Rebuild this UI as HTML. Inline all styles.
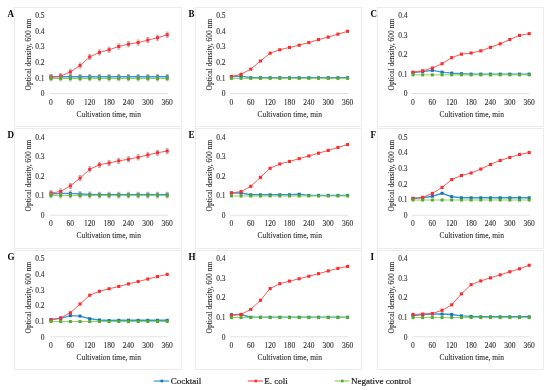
<!DOCTYPE html>
<html><head><meta charset="utf-8"><style>html,body{margin:0;padding:0;background:#fff;width:550px;height:390px;overflow:hidden}svg{display:block;will-change:transform;filter:blur(0.3px)}</style></head>
<body><svg width="550" height="390" viewBox="0 0 550 390">
<rect width="550" height="390" fill="#fff"/>
<rect x="14.5" y="7.5" width="167" height="119" fill="#fff" stroke="#ececec" stroke-width="1"/>
<text transform="translate(7.4,16.6) scale(0.9,1)" font-family="Liberation Serif" font-weight="bold" font-size="10.0" fill="#000">A</text>
<text transform="translate(31.2,54.6) rotate(-90)" text-anchor="middle" font-family="Liberation Serif" font-size="7.52" fill="#303030" stroke="#303030" stroke-width="0.1">Optical density, 600 nm</text>
<text x="44.6" y="96.33" text-anchor="end" font-family="Liberation Serif" font-size="7.52" fill="#303030" stroke="#303030" stroke-width="0.1">0</text>
<text x="44.6" y="80.71" text-anchor="end" font-family="Liberation Serif" font-size="7.52" fill="#303030" stroke="#303030" stroke-width="0.1">0.1</text>
<text x="44.6" y="65.09" text-anchor="end" font-family="Liberation Serif" font-size="7.52" fill="#303030" stroke="#303030" stroke-width="0.1">0.2</text>
<text x="44.6" y="49.47" text-anchor="end" font-family="Liberation Serif" font-size="7.52" fill="#303030" stroke="#303030" stroke-width="0.1">0.3</text>
<text x="44.6" y="33.85" text-anchor="end" font-family="Liberation Serif" font-size="7.52" fill="#303030" stroke="#303030" stroke-width="0.1">0.4</text>
<text x="44.6" y="18.23" text-anchor="end" font-family="Liberation Serif" font-size="7.52" fill="#303030" stroke="#303030" stroke-width="0.1">0.5</text>
<line x1="50.0" y1="93.50" x2="167.7" y2="93.50" stroke="#d9d9d9" stroke-width="0.8"/>
<text x="51.00" y="105.2" text-anchor="middle" font-family="Liberation Serif" font-size="7.52" fill="#303030" stroke="#303030" stroke-width="0.1">0</text>
<text x="70.37" y="105.2" text-anchor="middle" font-family="Liberation Serif" font-size="7.52" fill="#303030" stroke="#303030" stroke-width="0.1">60</text>
<text x="89.73" y="105.2" text-anchor="middle" font-family="Liberation Serif" font-size="7.52" fill="#303030" stroke="#303030" stroke-width="0.1">120</text>
<text x="109.10" y="105.2" text-anchor="middle" font-family="Liberation Serif" font-size="7.52" fill="#303030" stroke="#303030" stroke-width="0.1">180</text>
<text x="128.47" y="105.2" text-anchor="middle" font-family="Liberation Serif" font-size="7.52" fill="#303030" stroke="#303030" stroke-width="0.1">240</text>
<text x="147.83" y="105.2" text-anchor="middle" font-family="Liberation Serif" font-size="7.52" fill="#303030" stroke="#303030" stroke-width="0.1">300</text>
<text x="167.20" y="105.2" text-anchor="middle" font-family="Liberation Serif" font-size="7.52" fill="#303030" stroke="#303030" stroke-width="0.1">360</text>
<text x="108.7" y="116.6" text-anchor="middle" font-family="Liberation Serif" font-size="7.52" fill="#303030" stroke="#303030" stroke-width="0.1">Cultivation time, min</text>
<polyline points="51.00,76.79 60.68,76.79 70.37,76.79 80.05,76.79 89.73,76.79 99.42,76.79 109.10,76.79 118.78,76.79 128.47,76.79 138.15,76.79 147.83,76.79 157.52,76.79 167.20,76.79" fill="none" stroke="#3399dd" stroke-width="1.4"/>
<path d="M51.00 74.49V79.09M49.50 74.49h3M49.50 79.09h3" stroke="#9a9a9a" stroke-width="0.7" fill="none"/>
<rect x="49.50" y="75.29" width="3.0" height="3.0" fill="#1a6fb5"/>
<path d="M60.68 74.49V79.09M59.18 74.49h3M59.18 79.09h3" stroke="#9a9a9a" stroke-width="0.7" fill="none"/>
<rect x="59.18" y="75.29" width="3.0" height="3.0" fill="#1a6fb5"/>
<path d="M70.37 74.49V79.09M68.87 74.49h3M68.87 79.09h3" stroke="#9a9a9a" stroke-width="0.7" fill="none"/>
<rect x="68.87" y="75.29" width="3.0" height="3.0" fill="#1a6fb5"/>
<path d="M80.05 74.49V79.09M78.55 74.49h3M78.55 79.09h3" stroke="#9a9a9a" stroke-width="0.7" fill="none"/>
<rect x="78.55" y="75.29" width="3.0" height="3.0" fill="#1a6fb5"/>
<path d="M89.73 74.49V79.09M88.23 74.49h3M88.23 79.09h3" stroke="#9a9a9a" stroke-width="0.7" fill="none"/>
<rect x="88.23" y="75.29" width="3.0" height="3.0" fill="#1a6fb5"/>
<path d="M99.42 74.49V79.09M97.92 74.49h3M97.92 79.09h3" stroke="#9a9a9a" stroke-width="0.7" fill="none"/>
<rect x="97.92" y="75.29" width="3.0" height="3.0" fill="#1a6fb5"/>
<path d="M109.10 74.49V79.09M107.60 74.49h3M107.60 79.09h3" stroke="#9a9a9a" stroke-width="0.7" fill="none"/>
<rect x="107.60" y="75.29" width="3.0" height="3.0" fill="#1a6fb5"/>
<path d="M118.78 74.49V79.09M117.28 74.49h3M117.28 79.09h3" stroke="#9a9a9a" stroke-width="0.7" fill="none"/>
<rect x="117.28" y="75.29" width="3.0" height="3.0" fill="#1a6fb5"/>
<path d="M128.47 74.49V79.09M126.97 74.49h3M126.97 79.09h3" stroke="#9a9a9a" stroke-width="0.7" fill="none"/>
<rect x="126.97" y="75.29" width="3.0" height="3.0" fill="#1a6fb5"/>
<path d="M138.15 74.49V79.09M136.65 74.49h3M136.65 79.09h3" stroke="#9a9a9a" stroke-width="0.7" fill="none"/>
<rect x="136.65" y="75.29" width="3.0" height="3.0" fill="#1a6fb5"/>
<path d="M147.83 74.49V79.09M146.33 74.49h3M146.33 79.09h3" stroke="#9a9a9a" stroke-width="0.7" fill="none"/>
<rect x="146.33" y="75.29" width="3.0" height="3.0" fill="#1a6fb5"/>
<path d="M157.52 74.49V79.09M156.02 74.49h3M156.02 79.09h3" stroke="#9a9a9a" stroke-width="0.7" fill="none"/>
<rect x="156.02" y="75.29" width="3.0" height="3.0" fill="#1a6fb5"/>
<path d="M167.20 74.49V79.09M165.70 74.49h3M165.70 79.09h3" stroke="#9a9a9a" stroke-width="0.7" fill="none"/>
<rect x="165.70" y="75.29" width="3.0" height="3.0" fill="#1a6fb5"/>
<polyline points="51.00,77.10 60.68,76.16 70.37,71.94 80.05,65.54 89.73,56.95 99.42,52.42 109.10,49.76 118.78,46.48 128.47,44.14 138.15,42.58 147.83,40.08 157.52,37.74 167.20,34.77" fill="none" stroke="#ff5050" stroke-width="0.95"/>
<path d="M51.00 74.50V79.70M49.50 74.50h3M49.50 79.70h3" stroke="#9a9a9a" stroke-width="0.7" fill="none"/>
<rect x="49.45" y="75.55" width="3.1" height="3.1" fill="#ff2b2b"/>
<path d="M60.68 73.56V78.76M59.18 73.56h3M59.18 78.76h3" stroke="#9a9a9a" stroke-width="0.7" fill="none"/>
<rect x="59.13" y="74.61" width="3.1" height="3.1" fill="#ff2b2b"/>
<path d="M70.37 69.34V74.54M68.87 69.34h3M68.87 74.54h3" stroke="#9a9a9a" stroke-width="0.7" fill="none"/>
<rect x="68.82" y="70.39" width="3.1" height="3.1" fill="#ff2b2b"/>
<path d="M80.05 62.94V68.14M78.55 62.94h3M78.55 68.14h3" stroke="#9a9a9a" stroke-width="0.7" fill="none"/>
<rect x="78.50" y="63.99" width="3.1" height="3.1" fill="#ff2b2b"/>
<path d="M89.73 54.35V59.55M88.23 54.35h3M88.23 59.55h3" stroke="#9a9a9a" stroke-width="0.7" fill="none"/>
<rect x="88.18" y="55.40" width="3.1" height="3.1" fill="#ff2b2b"/>
<path d="M99.42 49.82V55.02M97.92 49.82h3M97.92 55.02h3" stroke="#9a9a9a" stroke-width="0.7" fill="none"/>
<rect x="97.87" y="50.87" width="3.1" height="3.1" fill="#ff2b2b"/>
<path d="M109.10 47.16V52.36M107.60 47.16h3M107.60 52.36h3" stroke="#9a9a9a" stroke-width="0.7" fill="none"/>
<rect x="107.55" y="48.21" width="3.1" height="3.1" fill="#ff2b2b"/>
<path d="M118.78 43.88V49.08M117.28 43.88h3M117.28 49.08h3" stroke="#9a9a9a" stroke-width="0.7" fill="none"/>
<rect x="117.23" y="44.93" width="3.1" height="3.1" fill="#ff2b2b"/>
<path d="M128.47 41.54V46.74M126.97 41.54h3M126.97 46.74h3" stroke="#9a9a9a" stroke-width="0.7" fill="none"/>
<rect x="126.92" y="42.59" width="3.1" height="3.1" fill="#ff2b2b"/>
<path d="M138.15 39.98V45.18M136.65 39.98h3M136.65 45.18h3" stroke="#9a9a9a" stroke-width="0.7" fill="none"/>
<rect x="136.60" y="41.03" width="3.1" height="3.1" fill="#ff2b2b"/>
<path d="M147.83 37.48V42.68M146.33 37.48h3M146.33 42.68h3" stroke="#9a9a9a" stroke-width="0.7" fill="none"/>
<rect x="146.28" y="38.53" width="3.1" height="3.1" fill="#ff2b2b"/>
<path d="M157.52 35.14V40.34M156.02 35.14h3M156.02 40.34h3" stroke="#9a9a9a" stroke-width="0.7" fill="none"/>
<rect x="155.97" y="36.19" width="3.1" height="3.1" fill="#ff2b2b"/>
<path d="M167.20 32.17V37.37M165.70 32.17h3M165.70 37.37h3" stroke="#9a9a9a" stroke-width="0.7" fill="none"/>
<rect x="165.65" y="33.22" width="3.1" height="3.1" fill="#ff2b2b"/>
<polyline points="51.00,78.50 60.68,78.50 70.37,78.50 80.05,78.50 89.73,78.50 99.42,78.50 109.10,78.50 118.78,78.50 128.47,78.50 138.15,78.50 147.83,78.50 157.52,78.50 167.20,78.50" fill="none" stroke="#8fd160" stroke-width="1.0"/>
<path d="M51.00 76.20V80.80M49.50 76.20h3M49.50 80.80h3" stroke="#9a9a9a" stroke-width="0.7" fill="none"/>
<rect x="49.50" y="77.00" width="3.0" height="3.0" fill="#55aa2a"/>
<path d="M60.68 76.20V80.80M59.18 76.20h3M59.18 80.80h3" stroke="#9a9a9a" stroke-width="0.7" fill="none"/>
<rect x="59.18" y="77.00" width="3.0" height="3.0" fill="#55aa2a"/>
<path d="M70.37 76.20V80.80M68.87 76.20h3M68.87 80.80h3" stroke="#9a9a9a" stroke-width="0.7" fill="none"/>
<rect x="68.87" y="77.00" width="3.0" height="3.0" fill="#55aa2a"/>
<path d="M80.05 76.20V80.80M78.55 76.20h3M78.55 80.80h3" stroke="#9a9a9a" stroke-width="0.7" fill="none"/>
<rect x="78.55" y="77.00" width="3.0" height="3.0" fill="#55aa2a"/>
<path d="M89.73 76.20V80.80M88.23 76.20h3M88.23 80.80h3" stroke="#9a9a9a" stroke-width="0.7" fill="none"/>
<rect x="88.23" y="77.00" width="3.0" height="3.0" fill="#55aa2a"/>
<path d="M99.42 76.20V80.80M97.92 76.20h3M97.92 80.80h3" stroke="#9a9a9a" stroke-width="0.7" fill="none"/>
<rect x="97.92" y="77.00" width="3.0" height="3.0" fill="#55aa2a"/>
<path d="M109.10 76.20V80.80M107.60 76.20h3M107.60 80.80h3" stroke="#9a9a9a" stroke-width="0.7" fill="none"/>
<rect x="107.60" y="77.00" width="3.0" height="3.0" fill="#55aa2a"/>
<path d="M118.78 76.20V80.80M117.28 76.20h3M117.28 80.80h3" stroke="#9a9a9a" stroke-width="0.7" fill="none"/>
<rect x="117.28" y="77.00" width="3.0" height="3.0" fill="#55aa2a"/>
<path d="M128.47 76.20V80.80M126.97 76.20h3M126.97 80.80h3" stroke="#9a9a9a" stroke-width="0.7" fill="none"/>
<rect x="126.97" y="77.00" width="3.0" height="3.0" fill="#55aa2a"/>
<path d="M138.15 76.20V80.80M136.65 76.20h3M136.65 80.80h3" stroke="#9a9a9a" stroke-width="0.7" fill="none"/>
<rect x="136.65" y="77.00" width="3.0" height="3.0" fill="#55aa2a"/>
<path d="M147.83 76.20V80.80M146.33 76.20h3M146.33 80.80h3" stroke="#9a9a9a" stroke-width="0.7" fill="none"/>
<rect x="146.33" y="77.00" width="3.0" height="3.0" fill="#55aa2a"/>
<path d="M157.52 76.20V80.80M156.02 76.20h3M156.02 80.80h3" stroke="#9a9a9a" stroke-width="0.7" fill="none"/>
<rect x="156.02" y="77.00" width="3.0" height="3.0" fill="#55aa2a"/>
<path d="M167.20 76.20V80.80M165.70 76.20h3M165.70 80.80h3" stroke="#9a9a9a" stroke-width="0.7" fill="none"/>
<rect x="165.70" y="77.00" width="3.0" height="3.0" fill="#55aa2a"/>
<rect x="195.5" y="7.5" width="166" height="119" fill="#fff" stroke="#ececec" stroke-width="1"/>
<text transform="translate(188.4,16.6) scale(0.9,1)" font-family="Liberation Serif" font-weight="bold" font-size="10.0" fill="#000">B</text>
<text transform="translate(212.2,54.6) rotate(-90)" text-anchor="middle" font-family="Liberation Serif" font-size="7.52" fill="#303030" stroke="#303030" stroke-width="0.1">Optical density, 600 nm</text>
<text x="225.6" y="96.33" text-anchor="end" font-family="Liberation Serif" font-size="7.52" fill="#303030" stroke="#303030" stroke-width="0.1">0</text>
<text x="225.6" y="80.71" text-anchor="end" font-family="Liberation Serif" font-size="7.52" fill="#303030" stroke="#303030" stroke-width="0.1">0.1</text>
<text x="225.6" y="65.09" text-anchor="end" font-family="Liberation Serif" font-size="7.52" fill="#303030" stroke="#303030" stroke-width="0.1">0.2</text>
<text x="225.6" y="49.47" text-anchor="end" font-family="Liberation Serif" font-size="7.52" fill="#303030" stroke="#303030" stroke-width="0.1">0.3</text>
<text x="225.6" y="33.85" text-anchor="end" font-family="Liberation Serif" font-size="7.52" fill="#303030" stroke="#303030" stroke-width="0.1">0.4</text>
<text x="225.6" y="18.23" text-anchor="end" font-family="Liberation Serif" font-size="7.52" fill="#303030" stroke="#303030" stroke-width="0.1">0.5</text>
<line x1="230.4" y1="93.50" x2="348.1" y2="93.50" stroke="#d9d9d9" stroke-width="0.8"/>
<text x="231.40" y="105.2" text-anchor="middle" font-family="Liberation Serif" font-size="7.52" fill="#303030" stroke="#303030" stroke-width="0.1">0</text>
<text x="250.77" y="105.2" text-anchor="middle" font-family="Liberation Serif" font-size="7.52" fill="#303030" stroke="#303030" stroke-width="0.1">60</text>
<text x="270.13" y="105.2" text-anchor="middle" font-family="Liberation Serif" font-size="7.52" fill="#303030" stroke="#303030" stroke-width="0.1">120</text>
<text x="289.50" y="105.2" text-anchor="middle" font-family="Liberation Serif" font-size="7.52" fill="#303030" stroke="#303030" stroke-width="0.1">180</text>
<text x="308.87" y="105.2" text-anchor="middle" font-family="Liberation Serif" font-size="7.52" fill="#303030" stroke="#303030" stroke-width="0.1">240</text>
<text x="328.23" y="105.2" text-anchor="middle" font-family="Liberation Serif" font-size="7.52" fill="#303030" stroke="#303030" stroke-width="0.1">300</text>
<text x="347.60" y="105.2" text-anchor="middle" font-family="Liberation Serif" font-size="7.52" fill="#303030" stroke="#303030" stroke-width="0.1">360</text>
<text x="289.7" y="116.6" text-anchor="middle" font-family="Liberation Serif" font-size="7.52" fill="#303030" stroke="#303030" stroke-width="0.1">Cultivation time, min</text>
<polyline points="231.40,76.79 241.08,76.16 250.77,77.72 260.45,77.72 270.13,77.72 279.82,77.72 289.50,77.72 299.18,77.72 308.87,77.72 318.55,77.72 328.23,77.72 337.92,77.72 347.60,77.72" fill="none" stroke="#3399dd" stroke-width="1.4"/>
<rect x="229.90" y="75.29" width="3.0" height="3.0" fill="#1a6fb5"/>
<rect x="239.58" y="74.66" width="3.0" height="3.0" fill="#1a6fb5"/>
<rect x="249.27" y="76.22" width="3.0" height="3.0" fill="#1a6fb5"/>
<rect x="258.95" y="76.22" width="3.0" height="3.0" fill="#1a6fb5"/>
<rect x="268.63" y="76.22" width="3.0" height="3.0" fill="#1a6fb5"/>
<rect x="278.32" y="76.22" width="3.0" height="3.0" fill="#1a6fb5"/>
<rect x="288.00" y="76.22" width="3.0" height="3.0" fill="#1a6fb5"/>
<rect x="297.68" y="76.22" width="3.0" height="3.0" fill="#1a6fb5"/>
<rect x="307.37" y="76.22" width="3.0" height="3.0" fill="#1a6fb5"/>
<rect x="317.05" y="76.22" width="3.0" height="3.0" fill="#1a6fb5"/>
<rect x="326.73" y="76.22" width="3.0" height="3.0" fill="#1a6fb5"/>
<rect x="336.42" y="76.22" width="3.0" height="3.0" fill="#1a6fb5"/>
<rect x="346.10" y="76.22" width="3.0" height="3.0" fill="#1a6fb5"/>
<polyline points="231.40,76.47 241.08,74.29 250.77,69.13 260.45,61.01 270.13,53.20 279.82,49.76 289.50,47.42 299.18,45.23 308.87,42.58 318.55,39.61 328.23,37.11 337.92,34.14 347.60,31.33" fill="none" stroke="#ff5050" stroke-width="0.95"/>
<rect x="229.85" y="74.92" width="3.1" height="3.1" fill="#ff2b2b"/>
<rect x="239.53" y="72.74" width="3.1" height="3.1" fill="#ff2b2b"/>
<rect x="249.22" y="67.58" width="3.1" height="3.1" fill="#ff2b2b"/>
<rect x="258.90" y="59.46" width="3.1" height="3.1" fill="#ff2b2b"/>
<rect x="268.58" y="51.65" width="3.1" height="3.1" fill="#ff2b2b"/>
<rect x="278.27" y="48.21" width="3.1" height="3.1" fill="#ff2b2b"/>
<rect x="287.95" y="45.87" width="3.1" height="3.1" fill="#ff2b2b"/>
<rect x="297.63" y="43.68" width="3.1" height="3.1" fill="#ff2b2b"/>
<rect x="307.32" y="41.03" width="3.1" height="3.1" fill="#ff2b2b"/>
<rect x="317.00" y="38.06" width="3.1" height="3.1" fill="#ff2b2b"/>
<rect x="326.68" y="35.56" width="3.1" height="3.1" fill="#ff2b2b"/>
<rect x="336.37" y="32.59" width="3.1" height="3.1" fill="#ff2b2b"/>
<rect x="346.05" y="29.78" width="3.1" height="3.1" fill="#ff2b2b"/>
<polyline points="231.40,78.35 241.08,78.35 250.77,78.35 260.45,78.35 270.13,78.35 279.82,78.35 289.50,78.35 299.18,78.35 308.87,78.35 318.55,78.35 328.23,78.35 337.92,78.35 347.60,78.35" fill="none" stroke="#8fd160" stroke-width="1.0"/>
<rect x="229.90" y="76.85" width="3.0" height="3.0" fill="#55aa2a"/>
<rect x="239.58" y="76.85" width="3.0" height="3.0" fill="#55aa2a"/>
<rect x="249.27" y="76.85" width="3.0" height="3.0" fill="#55aa2a"/>
<rect x="258.95" y="76.85" width="3.0" height="3.0" fill="#55aa2a"/>
<rect x="268.63" y="76.85" width="3.0" height="3.0" fill="#55aa2a"/>
<rect x="278.32" y="76.85" width="3.0" height="3.0" fill="#55aa2a"/>
<rect x="288.00" y="76.85" width="3.0" height="3.0" fill="#55aa2a"/>
<rect x="297.68" y="76.85" width="3.0" height="3.0" fill="#55aa2a"/>
<rect x="307.37" y="76.85" width="3.0" height="3.0" fill="#55aa2a"/>
<rect x="317.05" y="76.85" width="3.0" height="3.0" fill="#55aa2a"/>
<rect x="326.73" y="76.85" width="3.0" height="3.0" fill="#55aa2a"/>
<rect x="336.42" y="76.85" width="3.0" height="3.0" fill="#55aa2a"/>
<rect x="346.10" y="76.85" width="3.0" height="3.0" fill="#55aa2a"/>
<rect x="377.5" y="7.5" width="166" height="119" fill="#fff" stroke="#ececec" stroke-width="1"/>
<text transform="translate(370.4,16.6) scale(0.9,1)" font-family="Liberation Serif" font-weight="bold" font-size="10.0" fill="#000">C</text>
<text transform="translate(394.2,54.6) rotate(-90)" text-anchor="middle" font-family="Liberation Serif" font-size="7.52" fill="#303030" stroke="#303030" stroke-width="0.1">Optical density, 600 nm</text>
<text x="407.6" y="96.33" text-anchor="end" font-family="Liberation Serif" font-size="7.52" fill="#303030" stroke="#303030" stroke-width="0.1">0</text>
<text x="407.6" y="76.81" text-anchor="end" font-family="Liberation Serif" font-size="7.52" fill="#303030" stroke="#303030" stroke-width="0.1">0.1</text>
<text x="407.6" y="57.28" text-anchor="end" font-family="Liberation Serif" font-size="7.52" fill="#303030" stroke="#303030" stroke-width="0.1">0.2</text>
<text x="407.6" y="37.76" text-anchor="end" font-family="Liberation Serif" font-size="7.52" fill="#303030" stroke="#303030" stroke-width="0.1">0.3</text>
<text x="407.6" y="18.23" text-anchor="end" font-family="Liberation Serif" font-size="7.52" fill="#303030" stroke="#303030" stroke-width="0.1">0.4</text>
<line x1="412.0" y1="93.50" x2="529.7" y2="93.50" stroke="#d9d9d9" stroke-width="0.8"/>
<text x="413.00" y="105.2" text-anchor="middle" font-family="Liberation Serif" font-size="7.52" fill="#303030" stroke="#303030" stroke-width="0.1">0</text>
<text x="432.37" y="105.2" text-anchor="middle" font-family="Liberation Serif" font-size="7.52" fill="#303030" stroke="#303030" stroke-width="0.1">60</text>
<text x="451.73" y="105.2" text-anchor="middle" font-family="Liberation Serif" font-size="7.52" fill="#303030" stroke="#303030" stroke-width="0.1">120</text>
<text x="471.10" y="105.2" text-anchor="middle" font-family="Liberation Serif" font-size="7.52" fill="#303030" stroke="#303030" stroke-width="0.1">180</text>
<text x="490.47" y="105.2" text-anchor="middle" font-family="Liberation Serif" font-size="7.52" fill="#303030" stroke="#303030" stroke-width="0.1">240</text>
<text x="509.83" y="105.2" text-anchor="middle" font-family="Liberation Serif" font-size="7.52" fill="#303030" stroke="#303030" stroke-width="0.1">300</text>
<text x="529.20" y="105.2" text-anchor="middle" font-family="Liberation Serif" font-size="7.52" fill="#303030" stroke="#303030" stroke-width="0.1">360</text>
<text x="471.7" y="116.6" text-anchor="middle" font-family="Liberation Serif" font-size="7.52" fill="#303030" stroke="#303030" stroke-width="0.1">Cultivation time, min</text>
<polyline points="413.00,72.52 422.68,71.55 432.37,70.37 442.05,72.13 451.73,73.11 461.42,73.69 471.10,74.08 480.78,74.08 490.47,74.08 500.15,74.08 509.83,74.08 519.52,74.08 529.20,74.08" fill="none" stroke="#3399dd" stroke-width="1.4"/>
<rect x="411.50" y="71.02" width="3.0" height="3.0" fill="#1a6fb5"/>
<rect x="421.18" y="70.05" width="3.0" height="3.0" fill="#1a6fb5"/>
<rect x="430.87" y="68.87" width="3.0" height="3.0" fill="#1a6fb5"/>
<rect x="440.55" y="70.63" width="3.0" height="3.0" fill="#1a6fb5"/>
<rect x="450.23" y="71.61" width="3.0" height="3.0" fill="#1a6fb5"/>
<rect x="459.92" y="72.19" width="3.0" height="3.0" fill="#1a6fb5"/>
<rect x="469.60" y="72.58" width="3.0" height="3.0" fill="#1a6fb5"/>
<rect x="479.28" y="72.58" width="3.0" height="3.0" fill="#1a6fb5"/>
<rect x="488.97" y="72.58" width="3.0" height="3.0" fill="#1a6fb5"/>
<rect x="498.65" y="72.58" width="3.0" height="3.0" fill="#1a6fb5"/>
<rect x="508.33" y="72.58" width="3.0" height="3.0" fill="#1a6fb5"/>
<rect x="518.02" y="72.58" width="3.0" height="3.0" fill="#1a6fb5"/>
<rect x="527.70" y="72.58" width="3.0" height="3.0" fill="#1a6fb5"/>
<polyline points="413.00,72.13 422.68,70.77 432.37,68.03 442.05,63.74 451.73,57.68 461.42,54.17 471.10,53.00 480.78,50.85 490.47,47.34 500.15,43.82 509.83,39.53 519.52,35.43 529.20,33.67" fill="none" stroke="#ff5050" stroke-width="0.95"/>
<rect x="411.45" y="70.58" width="3.1" height="3.1" fill="#ff2b2b"/>
<rect x="421.13" y="69.22" width="3.1" height="3.1" fill="#ff2b2b"/>
<rect x="430.82" y="66.48" width="3.1" height="3.1" fill="#ff2b2b"/>
<rect x="440.50" y="62.19" width="3.1" height="3.1" fill="#ff2b2b"/>
<rect x="450.18" y="56.13" width="3.1" height="3.1" fill="#ff2b2b"/>
<rect x="459.87" y="52.62" width="3.1" height="3.1" fill="#ff2b2b"/>
<rect x="469.55" y="51.45" width="3.1" height="3.1" fill="#ff2b2b"/>
<rect x="479.23" y="49.30" width="3.1" height="3.1" fill="#ff2b2b"/>
<rect x="488.92" y="45.79" width="3.1" height="3.1" fill="#ff2b2b"/>
<rect x="498.60" y="42.27" width="3.1" height="3.1" fill="#ff2b2b"/>
<rect x="508.28" y="37.98" width="3.1" height="3.1" fill="#ff2b2b"/>
<rect x="517.97" y="33.88" width="3.1" height="3.1" fill="#ff2b2b"/>
<rect x="527.65" y="32.12" width="3.1" height="3.1" fill="#ff2b2b"/>
<polyline points="413.00,74.87 422.68,74.87 432.37,74.87 442.05,74.87 451.73,74.87 461.42,74.87 471.10,74.87 480.78,74.87 490.47,74.87 500.15,74.87 509.83,74.87 519.52,74.87 529.20,74.87" fill="none" stroke="#8fd160" stroke-width="1.0"/>
<rect x="411.50" y="73.37" width="3.0" height="3.0" fill="#55aa2a"/>
<rect x="421.18" y="73.37" width="3.0" height="3.0" fill="#55aa2a"/>
<rect x="430.87" y="73.37" width="3.0" height="3.0" fill="#55aa2a"/>
<rect x="440.55" y="73.37" width="3.0" height="3.0" fill="#55aa2a"/>
<rect x="450.23" y="73.37" width="3.0" height="3.0" fill="#55aa2a"/>
<rect x="459.92" y="73.37" width="3.0" height="3.0" fill="#55aa2a"/>
<rect x="469.60" y="73.37" width="3.0" height="3.0" fill="#55aa2a"/>
<rect x="479.28" y="73.37" width="3.0" height="3.0" fill="#55aa2a"/>
<rect x="488.97" y="73.37" width="3.0" height="3.0" fill="#55aa2a"/>
<rect x="498.65" y="73.37" width="3.0" height="3.0" fill="#55aa2a"/>
<rect x="508.33" y="73.37" width="3.0" height="3.0" fill="#55aa2a"/>
<rect x="518.02" y="73.37" width="3.0" height="3.0" fill="#55aa2a"/>
<rect x="527.70" y="73.37" width="3.0" height="3.0" fill="#55aa2a"/>
<rect x="14.5" y="128.5" width="167" height="120" fill="#fff" stroke="#ececec" stroke-width="1"/>
<text transform="translate(7.4,137.6) scale(0.9,1)" font-family="Liberation Serif" font-weight="bold" font-size="10.0" fill="#000">D</text>
<text transform="translate(31.2,175.6) rotate(-90)" text-anchor="middle" font-family="Liberation Serif" font-size="7.52" fill="#303030" stroke="#303030" stroke-width="0.1">Optical density, 600 nm</text>
<text x="44.6" y="218.03" text-anchor="end" font-family="Liberation Serif" font-size="7.52" fill="#303030" stroke="#303030" stroke-width="0.1">0</text>
<text x="44.6" y="198.41" text-anchor="end" font-family="Liberation Serif" font-size="7.52" fill="#303030" stroke="#303030" stroke-width="0.1">0.1</text>
<text x="44.6" y="178.78" text-anchor="end" font-family="Liberation Serif" font-size="7.52" fill="#303030" stroke="#303030" stroke-width="0.1">0.2</text>
<text x="44.6" y="159.16" text-anchor="end" font-family="Liberation Serif" font-size="7.52" fill="#303030" stroke="#303030" stroke-width="0.1">0.3</text>
<text x="44.6" y="139.53" text-anchor="end" font-family="Liberation Serif" font-size="7.52" fill="#303030" stroke="#303030" stroke-width="0.1">0.4</text>
<line x1="50.0" y1="215.20" x2="167.7" y2="215.20" stroke="#d9d9d9" stroke-width="0.8"/>
<text x="51.00" y="226.2" text-anchor="middle" font-family="Liberation Serif" font-size="7.52" fill="#303030" stroke="#303030" stroke-width="0.1">0</text>
<text x="70.37" y="226.2" text-anchor="middle" font-family="Liberation Serif" font-size="7.52" fill="#303030" stroke="#303030" stroke-width="0.1">60</text>
<text x="89.73" y="226.2" text-anchor="middle" font-family="Liberation Serif" font-size="7.52" fill="#303030" stroke="#303030" stroke-width="0.1">120</text>
<text x="109.10" y="226.2" text-anchor="middle" font-family="Liberation Serif" font-size="7.52" fill="#303030" stroke="#303030" stroke-width="0.1">180</text>
<text x="128.47" y="226.2" text-anchor="middle" font-family="Liberation Serif" font-size="7.52" fill="#303030" stroke="#303030" stroke-width="0.1">240</text>
<text x="147.83" y="226.2" text-anchor="middle" font-family="Liberation Serif" font-size="7.52" fill="#303030" stroke="#303030" stroke-width="0.1">300</text>
<text x="167.20" y="226.2" text-anchor="middle" font-family="Liberation Serif" font-size="7.52" fill="#303030" stroke="#303030" stroke-width="0.1">360</text>
<text x="108.7" y="237.6" text-anchor="middle" font-family="Liberation Serif" font-size="7.52" fill="#303030" stroke="#303030" stroke-width="0.1">Cultivation time, min</text>
<polyline points="51.00,194.00 60.68,193.42 70.37,193.42 80.05,194.00 89.73,194.40 99.42,194.59 109.10,194.59 118.78,194.59 128.47,194.59 138.15,194.59 147.83,194.59 157.52,194.59 167.20,194.59" fill="none" stroke="#3399dd" stroke-width="1.4"/>
<path d="M51.00 191.70V196.31M49.50 191.70h3M49.50 196.31h3" stroke="#9a9a9a" stroke-width="0.7" fill="none"/>
<rect x="49.50" y="192.50" width="3.0" height="3.0" fill="#1a6fb5"/>
<path d="M60.68 191.12V195.72M59.18 191.12h3M59.18 195.72h3" stroke="#9a9a9a" stroke-width="0.7" fill="none"/>
<rect x="59.18" y="191.92" width="3.0" height="3.0" fill="#1a6fb5"/>
<path d="M70.37 191.12V195.72M68.87 191.12h3M68.87 195.72h3" stroke="#9a9a9a" stroke-width="0.7" fill="none"/>
<rect x="68.87" y="191.92" width="3.0" height="3.0" fill="#1a6fb5"/>
<path d="M80.05 191.70V196.31M78.55 191.70h3M78.55 196.31h3" stroke="#9a9a9a" stroke-width="0.7" fill="none"/>
<rect x="78.55" y="192.50" width="3.0" height="3.0" fill="#1a6fb5"/>
<path d="M89.73 192.10V196.70M88.23 192.10h3M88.23 196.70h3" stroke="#9a9a9a" stroke-width="0.7" fill="none"/>
<rect x="88.23" y="192.90" width="3.0" height="3.0" fill="#1a6fb5"/>
<path d="M99.42 192.29V196.89M97.92 192.29h3M97.92 196.89h3" stroke="#9a9a9a" stroke-width="0.7" fill="none"/>
<rect x="97.92" y="193.09" width="3.0" height="3.0" fill="#1a6fb5"/>
<path d="M109.10 192.29V196.89M107.60 192.29h3M107.60 196.89h3" stroke="#9a9a9a" stroke-width="0.7" fill="none"/>
<rect x="107.60" y="193.09" width="3.0" height="3.0" fill="#1a6fb5"/>
<path d="M118.78 192.29V196.89M117.28 192.29h3M117.28 196.89h3" stroke="#9a9a9a" stroke-width="0.7" fill="none"/>
<rect x="117.28" y="193.09" width="3.0" height="3.0" fill="#1a6fb5"/>
<path d="M128.47 192.29V196.89M126.97 192.29h3M126.97 196.89h3" stroke="#9a9a9a" stroke-width="0.7" fill="none"/>
<rect x="126.97" y="193.09" width="3.0" height="3.0" fill="#1a6fb5"/>
<path d="M138.15 192.29V196.89M136.65 192.29h3M136.65 196.89h3" stroke="#9a9a9a" stroke-width="0.7" fill="none"/>
<rect x="136.65" y="193.09" width="3.0" height="3.0" fill="#1a6fb5"/>
<path d="M147.83 192.29V196.89M146.33 192.29h3M146.33 196.89h3" stroke="#9a9a9a" stroke-width="0.7" fill="none"/>
<rect x="146.33" y="193.09" width="3.0" height="3.0" fill="#1a6fb5"/>
<path d="M157.52 192.29V196.89M156.02 192.29h3M156.02 196.89h3" stroke="#9a9a9a" stroke-width="0.7" fill="none"/>
<rect x="156.02" y="193.09" width="3.0" height="3.0" fill="#1a6fb5"/>
<path d="M167.20 192.29V196.89M165.70 192.29h3M165.70 196.89h3" stroke="#9a9a9a" stroke-width="0.7" fill="none"/>
<rect x="165.70" y="193.09" width="3.0" height="3.0" fill="#1a6fb5"/>
<polyline points="51.00,193.02 60.68,191.45 70.37,185.96 80.05,178.11 89.73,169.28 99.42,164.76 109.10,163.00 118.78,160.84 128.47,159.27 138.15,157.31 147.83,154.95 157.52,152.79 167.20,151.03" fill="none" stroke="#ff5050" stroke-width="0.95"/>
<path d="M51.00 190.42V195.62M49.50 190.42h3M49.50 195.62h3" stroke="#9a9a9a" stroke-width="0.7" fill="none"/>
<rect x="49.45" y="191.47" width="3.1" height="3.1" fill="#ff2b2b"/>
<path d="M60.68 188.85V194.05M59.18 188.85h3M59.18 194.05h3" stroke="#9a9a9a" stroke-width="0.7" fill="none"/>
<rect x="59.13" y="189.90" width="3.1" height="3.1" fill="#ff2b2b"/>
<path d="M70.37 183.36V188.56M68.87 183.36h3M68.87 188.56h3" stroke="#9a9a9a" stroke-width="0.7" fill="none"/>
<rect x="68.82" y="184.41" width="3.1" height="3.1" fill="#ff2b2b"/>
<path d="M80.05 175.51V180.71M78.55 175.51h3M78.55 180.71h3" stroke="#9a9a9a" stroke-width="0.7" fill="none"/>
<rect x="78.50" y="176.56" width="3.1" height="3.1" fill="#ff2b2b"/>
<path d="M89.73 166.68V171.88M88.23 166.68h3M88.23 171.88h3" stroke="#9a9a9a" stroke-width="0.7" fill="none"/>
<rect x="88.18" y="167.73" width="3.1" height="3.1" fill="#ff2b2b"/>
<path d="M99.42 162.16V167.36M97.92 162.16h3M97.92 167.36h3" stroke="#9a9a9a" stroke-width="0.7" fill="none"/>
<rect x="97.87" y="163.21" width="3.1" height="3.1" fill="#ff2b2b"/>
<path d="M109.10 160.40V165.60M107.60 160.40h3M107.60 165.60h3" stroke="#9a9a9a" stroke-width="0.7" fill="none"/>
<rect x="107.55" y="161.45" width="3.1" height="3.1" fill="#ff2b2b"/>
<path d="M118.78 158.24V163.44M117.28 158.24h3M117.28 163.44h3" stroke="#9a9a9a" stroke-width="0.7" fill="none"/>
<rect x="117.23" y="159.29" width="3.1" height="3.1" fill="#ff2b2b"/>
<path d="M128.47 156.67V161.87M126.97 156.67h3M126.97 161.87h3" stroke="#9a9a9a" stroke-width="0.7" fill="none"/>
<rect x="126.92" y="157.72" width="3.1" height="3.1" fill="#ff2b2b"/>
<path d="M138.15 154.71V159.91M136.65 154.71h3M136.65 159.91h3" stroke="#9a9a9a" stroke-width="0.7" fill="none"/>
<rect x="136.60" y="155.76" width="3.1" height="3.1" fill="#ff2b2b"/>
<path d="M147.83 152.35V157.55M146.33 152.35h3M146.33 157.55h3" stroke="#9a9a9a" stroke-width="0.7" fill="none"/>
<rect x="146.28" y="153.40" width="3.1" height="3.1" fill="#ff2b2b"/>
<path d="M157.52 150.19V155.39M156.02 150.19h3M156.02 155.39h3" stroke="#9a9a9a" stroke-width="0.7" fill="none"/>
<rect x="155.97" y="151.24" width="3.1" height="3.1" fill="#ff2b2b"/>
<path d="M167.20 148.43V153.63M165.70 148.43h3M165.70 153.63h3" stroke="#9a9a9a" stroke-width="0.7" fill="none"/>
<rect x="165.65" y="149.48" width="3.1" height="3.1" fill="#ff2b2b"/>
<polyline points="51.00,195.57 60.68,195.57 70.37,195.57 80.05,195.57 89.73,195.57 99.42,195.57 109.10,195.57 118.78,195.57 128.47,195.57 138.15,195.57 147.83,195.57 157.52,195.57 167.20,195.57" fill="none" stroke="#8fd160" stroke-width="1.0"/>
<path d="M51.00 193.27V197.88M49.50 193.27h3M49.50 197.88h3" stroke="#9a9a9a" stroke-width="0.7" fill="none"/>
<rect x="49.50" y="194.07" width="3.0" height="3.0" fill="#55aa2a"/>
<path d="M60.68 193.27V197.88M59.18 193.27h3M59.18 197.88h3" stroke="#9a9a9a" stroke-width="0.7" fill="none"/>
<rect x="59.18" y="194.07" width="3.0" height="3.0" fill="#55aa2a"/>
<path d="M70.37 193.27V197.88M68.87 193.27h3M68.87 197.88h3" stroke="#9a9a9a" stroke-width="0.7" fill="none"/>
<rect x="68.87" y="194.07" width="3.0" height="3.0" fill="#55aa2a"/>
<path d="M80.05 193.27V197.88M78.55 193.27h3M78.55 197.88h3" stroke="#9a9a9a" stroke-width="0.7" fill="none"/>
<rect x="78.55" y="194.07" width="3.0" height="3.0" fill="#55aa2a"/>
<path d="M89.73 193.27V197.88M88.23 193.27h3M88.23 197.88h3" stroke="#9a9a9a" stroke-width="0.7" fill="none"/>
<rect x="88.23" y="194.07" width="3.0" height="3.0" fill="#55aa2a"/>
<path d="M99.42 193.27V197.88M97.92 193.27h3M97.92 197.88h3" stroke="#9a9a9a" stroke-width="0.7" fill="none"/>
<rect x="97.92" y="194.07" width="3.0" height="3.0" fill="#55aa2a"/>
<path d="M109.10 193.27V197.88M107.60 193.27h3M107.60 197.88h3" stroke="#9a9a9a" stroke-width="0.7" fill="none"/>
<rect x="107.60" y="194.07" width="3.0" height="3.0" fill="#55aa2a"/>
<path d="M118.78 193.27V197.88M117.28 193.27h3M117.28 197.88h3" stroke="#9a9a9a" stroke-width="0.7" fill="none"/>
<rect x="117.28" y="194.07" width="3.0" height="3.0" fill="#55aa2a"/>
<path d="M128.47 193.27V197.88M126.97 193.27h3M126.97 197.88h3" stroke="#9a9a9a" stroke-width="0.7" fill="none"/>
<rect x="126.97" y="194.07" width="3.0" height="3.0" fill="#55aa2a"/>
<path d="M138.15 193.27V197.88M136.65 193.27h3M136.65 197.88h3" stroke="#9a9a9a" stroke-width="0.7" fill="none"/>
<rect x="136.65" y="194.07" width="3.0" height="3.0" fill="#55aa2a"/>
<path d="M147.83 193.27V197.88M146.33 193.27h3M146.33 197.88h3" stroke="#9a9a9a" stroke-width="0.7" fill="none"/>
<rect x="146.33" y="194.07" width="3.0" height="3.0" fill="#55aa2a"/>
<path d="M157.52 193.27V197.88M156.02 193.27h3M156.02 197.88h3" stroke="#9a9a9a" stroke-width="0.7" fill="none"/>
<rect x="156.02" y="194.07" width="3.0" height="3.0" fill="#55aa2a"/>
<path d="M167.20 193.27V197.88M165.70 193.27h3M165.70 197.88h3" stroke="#9a9a9a" stroke-width="0.7" fill="none"/>
<rect x="165.70" y="194.07" width="3.0" height="3.0" fill="#55aa2a"/>
<rect x="195.5" y="128.5" width="166" height="120" fill="#fff" stroke="#ececec" stroke-width="1"/>
<text transform="translate(188.4,137.6) scale(0.9,1)" font-family="Liberation Serif" font-weight="bold" font-size="10.0" fill="#000">E</text>
<text transform="translate(212.2,175.6) rotate(-90)" text-anchor="middle" font-family="Liberation Serif" font-size="7.52" fill="#303030" stroke="#303030" stroke-width="0.1">Optical density, 600 nm</text>
<text x="225.6" y="218.03" text-anchor="end" font-family="Liberation Serif" font-size="7.52" fill="#303030" stroke="#303030" stroke-width="0.1">0</text>
<text x="225.6" y="198.41" text-anchor="end" font-family="Liberation Serif" font-size="7.52" fill="#303030" stroke="#303030" stroke-width="0.1">0.1</text>
<text x="225.6" y="178.78" text-anchor="end" font-family="Liberation Serif" font-size="7.52" fill="#303030" stroke="#303030" stroke-width="0.1">0.2</text>
<text x="225.6" y="159.16" text-anchor="end" font-family="Liberation Serif" font-size="7.52" fill="#303030" stroke="#303030" stroke-width="0.1">0.3</text>
<text x="225.6" y="139.53" text-anchor="end" font-family="Liberation Serif" font-size="7.52" fill="#303030" stroke="#303030" stroke-width="0.1">0.4</text>
<line x1="230.4" y1="215.20" x2="348.1" y2="215.20" stroke="#d9d9d9" stroke-width="0.8"/>
<text x="231.40" y="226.2" text-anchor="middle" font-family="Liberation Serif" font-size="7.52" fill="#303030" stroke="#303030" stroke-width="0.1">0</text>
<text x="250.77" y="226.2" text-anchor="middle" font-family="Liberation Serif" font-size="7.52" fill="#303030" stroke="#303030" stroke-width="0.1">60</text>
<text x="270.13" y="226.2" text-anchor="middle" font-family="Liberation Serif" font-size="7.52" fill="#303030" stroke="#303030" stroke-width="0.1">120</text>
<text x="289.50" y="226.2" text-anchor="middle" font-family="Liberation Serif" font-size="7.52" fill="#303030" stroke="#303030" stroke-width="0.1">180</text>
<text x="308.87" y="226.2" text-anchor="middle" font-family="Liberation Serif" font-size="7.52" fill="#303030" stroke="#303030" stroke-width="0.1">240</text>
<text x="328.23" y="226.2" text-anchor="middle" font-family="Liberation Serif" font-size="7.52" fill="#303030" stroke="#303030" stroke-width="0.1">300</text>
<text x="347.60" y="226.2" text-anchor="middle" font-family="Liberation Serif" font-size="7.52" fill="#303030" stroke="#303030" stroke-width="0.1">360</text>
<text x="289.7" y="237.6" text-anchor="middle" font-family="Liberation Serif" font-size="7.52" fill="#303030" stroke="#303030" stroke-width="0.1">Cultivation time, min</text>
<polyline points="231.40,193.02 241.08,193.02 250.77,194.79 260.45,194.79 270.13,194.79 279.82,194.79 289.50,194.79 299.18,194.20 308.87,195.38 318.55,195.38 328.23,195.38 337.92,195.38 347.60,195.38" fill="none" stroke="#3399dd" stroke-width="1.4"/>
<rect x="229.90" y="191.52" width="3.0" height="3.0" fill="#1a6fb5"/>
<rect x="239.58" y="191.52" width="3.0" height="3.0" fill="#1a6fb5"/>
<rect x="249.27" y="193.29" width="3.0" height="3.0" fill="#1a6fb5"/>
<rect x="258.95" y="193.29" width="3.0" height="3.0" fill="#1a6fb5"/>
<rect x="268.63" y="193.29" width="3.0" height="3.0" fill="#1a6fb5"/>
<rect x="278.32" y="193.29" width="3.0" height="3.0" fill="#1a6fb5"/>
<rect x="288.00" y="193.29" width="3.0" height="3.0" fill="#1a6fb5"/>
<rect x="297.68" y="192.70" width="3.0" height="3.0" fill="#1a6fb5"/>
<rect x="307.37" y="193.88" width="3.0" height="3.0" fill="#1a6fb5"/>
<rect x="317.05" y="193.88" width="3.0" height="3.0" fill="#1a6fb5"/>
<rect x="326.73" y="193.88" width="3.0" height="3.0" fill="#1a6fb5"/>
<rect x="336.42" y="193.88" width="3.0" height="3.0" fill="#1a6fb5"/>
<rect x="346.10" y="193.88" width="3.0" height="3.0" fill="#1a6fb5"/>
<polyline points="231.40,192.83 241.08,191.65 250.77,186.35 260.45,177.32 270.13,168.30 279.82,163.98 289.50,161.43 299.18,158.68 308.87,155.93 318.55,153.19 328.23,150.44 337.92,147.49 347.60,144.55" fill="none" stroke="#ff5050" stroke-width="0.95"/>
<rect x="229.85" y="191.28" width="3.1" height="3.1" fill="#ff2b2b"/>
<rect x="239.53" y="190.10" width="3.1" height="3.1" fill="#ff2b2b"/>
<rect x="249.22" y="184.80" width="3.1" height="3.1" fill="#ff2b2b"/>
<rect x="258.90" y="175.77" width="3.1" height="3.1" fill="#ff2b2b"/>
<rect x="268.58" y="166.75" width="3.1" height="3.1" fill="#ff2b2b"/>
<rect x="278.27" y="162.43" width="3.1" height="3.1" fill="#ff2b2b"/>
<rect x="287.95" y="159.88" width="3.1" height="3.1" fill="#ff2b2b"/>
<rect x="297.63" y="157.13" width="3.1" height="3.1" fill="#ff2b2b"/>
<rect x="307.32" y="154.38" width="3.1" height="3.1" fill="#ff2b2b"/>
<rect x="317.00" y="151.63" width="3.1" height="3.1" fill="#ff2b2b"/>
<rect x="326.68" y="148.89" width="3.1" height="3.1" fill="#ff2b2b"/>
<rect x="336.37" y="145.94" width="3.1" height="3.1" fill="#ff2b2b"/>
<rect x="346.05" y="143.00" width="3.1" height="3.1" fill="#ff2b2b"/>
<polyline points="231.40,195.97 241.08,195.97 250.77,195.97 260.45,195.97 270.13,195.97 279.82,195.97 289.50,195.97 299.18,195.97 308.87,195.97 318.55,195.97 328.23,195.97 337.92,195.97 347.60,195.97" fill="none" stroke="#8fd160" stroke-width="1.0"/>
<rect x="229.90" y="194.47" width="3.0" height="3.0" fill="#55aa2a"/>
<rect x="239.58" y="194.47" width="3.0" height="3.0" fill="#55aa2a"/>
<rect x="249.27" y="194.47" width="3.0" height="3.0" fill="#55aa2a"/>
<rect x="258.95" y="194.47" width="3.0" height="3.0" fill="#55aa2a"/>
<rect x="268.63" y="194.47" width="3.0" height="3.0" fill="#55aa2a"/>
<rect x="278.32" y="194.47" width="3.0" height="3.0" fill="#55aa2a"/>
<rect x="288.00" y="194.47" width="3.0" height="3.0" fill="#55aa2a"/>
<rect x="297.68" y="194.47" width="3.0" height="3.0" fill="#55aa2a"/>
<rect x="307.37" y="194.47" width="3.0" height="3.0" fill="#55aa2a"/>
<rect x="317.05" y="194.47" width="3.0" height="3.0" fill="#55aa2a"/>
<rect x="326.73" y="194.47" width="3.0" height="3.0" fill="#55aa2a"/>
<rect x="336.42" y="194.47" width="3.0" height="3.0" fill="#55aa2a"/>
<rect x="346.10" y="194.47" width="3.0" height="3.0" fill="#55aa2a"/>
<rect x="377.5" y="128.5" width="166" height="120" fill="#fff" stroke="#ececec" stroke-width="1"/>
<text transform="translate(370.4,137.6) scale(0.9,1)" font-family="Liberation Serif" font-weight="bold" font-size="10.0" fill="#000">F</text>
<text transform="translate(394.2,175.6) rotate(-90)" text-anchor="middle" font-family="Liberation Serif" font-size="7.52" fill="#303030" stroke="#303030" stroke-width="0.1">Optical density, 600 nm</text>
<text x="407.6" y="218.03" text-anchor="end" font-family="Liberation Serif" font-size="7.52" fill="#303030" stroke="#303030" stroke-width="0.1">0</text>
<text x="407.6" y="202.33" text-anchor="end" font-family="Liberation Serif" font-size="7.52" fill="#303030" stroke="#303030" stroke-width="0.1">0.1</text>
<text x="407.6" y="186.63" text-anchor="end" font-family="Liberation Serif" font-size="7.52" fill="#303030" stroke="#303030" stroke-width="0.1">0.2</text>
<text x="407.6" y="170.93" text-anchor="end" font-family="Liberation Serif" font-size="7.52" fill="#303030" stroke="#303030" stroke-width="0.1">0.3</text>
<text x="407.6" y="155.23" text-anchor="end" font-family="Liberation Serif" font-size="7.52" fill="#303030" stroke="#303030" stroke-width="0.1">0.4</text>
<text x="407.6" y="139.53" text-anchor="end" font-family="Liberation Serif" font-size="7.52" fill="#303030" stroke="#303030" stroke-width="0.1">0.5</text>
<line x1="412.0" y1="215.20" x2="529.7" y2="215.20" stroke="#d9d9d9" stroke-width="0.8"/>
<text x="413.00" y="226.2" text-anchor="middle" font-family="Liberation Serif" font-size="7.52" fill="#303030" stroke="#303030" stroke-width="0.1">0</text>
<text x="432.37" y="226.2" text-anchor="middle" font-family="Liberation Serif" font-size="7.52" fill="#303030" stroke="#303030" stroke-width="0.1">60</text>
<text x="451.73" y="226.2" text-anchor="middle" font-family="Liberation Serif" font-size="7.52" fill="#303030" stroke="#303030" stroke-width="0.1">120</text>
<text x="471.10" y="226.2" text-anchor="middle" font-family="Liberation Serif" font-size="7.52" fill="#303030" stroke="#303030" stroke-width="0.1">180</text>
<text x="490.47" y="226.2" text-anchor="middle" font-family="Liberation Serif" font-size="7.52" fill="#303030" stroke="#303030" stroke-width="0.1">240</text>
<text x="509.83" y="226.2" text-anchor="middle" font-family="Liberation Serif" font-size="7.52" fill="#303030" stroke="#303030" stroke-width="0.1">300</text>
<text x="529.20" y="226.2" text-anchor="middle" font-family="Liberation Serif" font-size="7.52" fill="#303030" stroke="#303030" stroke-width="0.1">360</text>
<text x="471.7" y="237.6" text-anchor="middle" font-family="Liberation Serif" font-size="7.52" fill="#303030" stroke="#303030" stroke-width="0.1">Cultivation time, min</text>
<polyline points="413.00,198.27 422.68,197.80 432.37,196.23 442.05,193.25 451.73,196.70 461.42,197.80 471.10,197.80 480.78,197.80 490.47,197.80 500.15,197.80 509.83,197.80 519.52,197.80 529.20,197.80" fill="none" stroke="#3399dd" stroke-width="1.4"/>
<rect x="411.50" y="196.77" width="3.0" height="3.0" fill="#1a6fb5"/>
<rect x="421.18" y="196.30" width="3.0" height="3.0" fill="#1a6fb5"/>
<rect x="430.87" y="194.73" width="3.0" height="3.0" fill="#1a6fb5"/>
<rect x="440.55" y="191.75" width="3.0" height="3.0" fill="#1a6fb5"/>
<rect x="450.23" y="195.20" width="3.0" height="3.0" fill="#1a6fb5"/>
<rect x="459.92" y="196.30" width="3.0" height="3.0" fill="#1a6fb5"/>
<rect x="469.60" y="196.30" width="3.0" height="3.0" fill="#1a6fb5"/>
<rect x="479.28" y="196.30" width="3.0" height="3.0" fill="#1a6fb5"/>
<rect x="488.97" y="196.30" width="3.0" height="3.0" fill="#1a6fb5"/>
<rect x="498.65" y="196.30" width="3.0" height="3.0" fill="#1a6fb5"/>
<rect x="508.33" y="196.30" width="3.0" height="3.0" fill="#1a6fb5"/>
<rect x="518.02" y="196.30" width="3.0" height="3.0" fill="#1a6fb5"/>
<rect x="527.70" y="196.30" width="3.0" height="3.0" fill="#1a6fb5"/>
<polyline points="413.00,198.74 422.68,197.33 432.37,193.41 442.05,187.44 451.73,179.59 461.42,175.51 471.10,173.00 480.78,169.07 490.47,164.52 500.15,160.44 509.83,157.45 519.52,154.47 529.20,152.59" fill="none" stroke="#ff5050" stroke-width="0.95"/>
<rect x="411.45" y="197.19" width="3.1" height="3.1" fill="#ff2b2b"/>
<rect x="421.13" y="195.78" width="3.1" height="3.1" fill="#ff2b2b"/>
<rect x="430.82" y="191.86" width="3.1" height="3.1" fill="#ff2b2b"/>
<rect x="440.50" y="185.89" width="3.1" height="3.1" fill="#ff2b2b"/>
<rect x="450.18" y="178.04" width="3.1" height="3.1" fill="#ff2b2b"/>
<rect x="459.87" y="173.96" width="3.1" height="3.1" fill="#ff2b2b"/>
<rect x="469.55" y="171.45" width="3.1" height="3.1" fill="#ff2b2b"/>
<rect x="479.23" y="167.52" width="3.1" height="3.1" fill="#ff2b2b"/>
<rect x="488.92" y="162.97" width="3.1" height="3.1" fill="#ff2b2b"/>
<rect x="498.60" y="158.89" width="3.1" height="3.1" fill="#ff2b2b"/>
<rect x="508.28" y="155.90" width="3.1" height="3.1" fill="#ff2b2b"/>
<rect x="517.97" y="152.92" width="3.1" height="3.1" fill="#ff2b2b"/>
<rect x="527.65" y="151.04" width="3.1" height="3.1" fill="#ff2b2b"/>
<polyline points="413.00,200.00 422.68,200.00 432.37,200.00 442.05,200.00 451.73,200.00 461.42,200.00 471.10,200.00 480.78,200.00 490.47,200.00 500.15,200.00 509.83,200.00 519.52,200.00 529.20,200.00" fill="none" stroke="#8fd160" stroke-width="1.0"/>
<rect x="411.50" y="198.50" width="3.0" height="3.0" fill="#55aa2a"/>
<rect x="421.18" y="198.50" width="3.0" height="3.0" fill="#55aa2a"/>
<rect x="430.87" y="198.50" width="3.0" height="3.0" fill="#55aa2a"/>
<rect x="440.55" y="198.50" width="3.0" height="3.0" fill="#55aa2a"/>
<rect x="450.23" y="198.50" width="3.0" height="3.0" fill="#55aa2a"/>
<rect x="459.92" y="198.50" width="3.0" height="3.0" fill="#55aa2a"/>
<rect x="469.60" y="198.50" width="3.0" height="3.0" fill="#55aa2a"/>
<rect x="479.28" y="198.50" width="3.0" height="3.0" fill="#55aa2a"/>
<rect x="488.97" y="198.50" width="3.0" height="3.0" fill="#55aa2a"/>
<rect x="498.65" y="198.50" width="3.0" height="3.0" fill="#55aa2a"/>
<rect x="508.33" y="198.50" width="3.0" height="3.0" fill="#55aa2a"/>
<rect x="518.02" y="198.50" width="3.0" height="3.0" fill="#55aa2a"/>
<rect x="527.70" y="198.50" width="3.0" height="3.0" fill="#55aa2a"/>
<rect x="14.5" y="250.5" width="167" height="119" fill="#fff" stroke="#ececec" stroke-width="1"/>
<text transform="translate(7.4,259.6) scale(0.9,1)" font-family="Liberation Serif" font-weight="bold" font-size="10.0" fill="#000">G</text>
<text transform="translate(31.2,297.6) rotate(-90)" text-anchor="middle" font-family="Liberation Serif" font-size="7.52" fill="#303030" stroke="#303030" stroke-width="0.1">Optical density, 600 nm</text>
<text x="44.6" y="339.63" text-anchor="end" font-family="Liberation Serif" font-size="7.52" fill="#303030" stroke="#303030" stroke-width="0.1">0</text>
<text x="44.6" y="323.95" text-anchor="end" font-family="Liberation Serif" font-size="7.52" fill="#303030" stroke="#303030" stroke-width="0.1">0.1</text>
<text x="44.6" y="308.27" text-anchor="end" font-family="Liberation Serif" font-size="7.52" fill="#303030" stroke="#303030" stroke-width="0.1">0.2</text>
<text x="44.6" y="292.59" text-anchor="end" font-family="Liberation Serif" font-size="7.52" fill="#303030" stroke="#303030" stroke-width="0.1">0.3</text>
<text x="44.6" y="276.91" text-anchor="end" font-family="Liberation Serif" font-size="7.52" fill="#303030" stroke="#303030" stroke-width="0.1">0.4</text>
<text x="44.6" y="261.23" text-anchor="end" font-family="Liberation Serif" font-size="7.52" fill="#303030" stroke="#303030" stroke-width="0.1">0.5</text>
<line x1="50.0" y1="336.80" x2="167.7" y2="336.80" stroke="#d9d9d9" stroke-width="0.8"/>
<text x="51.00" y="348.2" text-anchor="middle" font-family="Liberation Serif" font-size="7.52" fill="#303030" stroke="#303030" stroke-width="0.1">0</text>
<text x="70.37" y="348.2" text-anchor="middle" font-family="Liberation Serif" font-size="7.52" fill="#303030" stroke="#303030" stroke-width="0.1">60</text>
<text x="89.73" y="348.2" text-anchor="middle" font-family="Liberation Serif" font-size="7.52" fill="#303030" stroke="#303030" stroke-width="0.1">120</text>
<text x="109.10" y="348.2" text-anchor="middle" font-family="Liberation Serif" font-size="7.52" fill="#303030" stroke="#303030" stroke-width="0.1">180</text>
<text x="128.47" y="348.2" text-anchor="middle" font-family="Liberation Serif" font-size="7.52" fill="#303030" stroke="#303030" stroke-width="0.1">240</text>
<text x="147.83" y="348.2" text-anchor="middle" font-family="Liberation Serif" font-size="7.52" fill="#303030" stroke="#303030" stroke-width="0.1">300</text>
<text x="167.20" y="348.2" text-anchor="middle" font-family="Liberation Serif" font-size="7.52" fill="#303030" stroke="#303030" stroke-width="0.1">360</text>
<text x="108.7" y="359.6" text-anchor="middle" font-family="Liberation Serif" font-size="7.52" fill="#303030" stroke="#303030" stroke-width="0.1">Cultivation time, min</text>
<polyline points="51.00,319.52 60.68,318.43 70.37,315.60 80.05,316.08 89.73,318.74 99.42,320.00 109.10,320.47 118.78,320.31 128.47,320.31 138.15,320.31 147.83,320.31 157.52,320.31 167.20,320.31" fill="none" stroke="#3399dd" stroke-width="1.4"/>
<rect x="49.50" y="318.02" width="3.0" height="3.0" fill="#1a6fb5"/>
<rect x="59.18" y="316.93" width="3.0" height="3.0" fill="#1a6fb5"/>
<rect x="68.87" y="314.10" width="3.0" height="3.0" fill="#1a6fb5"/>
<rect x="78.55" y="314.58" width="3.0" height="3.0" fill="#1a6fb5"/>
<rect x="88.23" y="317.24" width="3.0" height="3.0" fill="#1a6fb5"/>
<rect x="97.92" y="318.50" width="3.0" height="3.0" fill="#1a6fb5"/>
<rect x="107.60" y="318.97" width="3.0" height="3.0" fill="#1a6fb5"/>
<rect x="117.28" y="318.81" width="3.0" height="3.0" fill="#1a6fb5"/>
<rect x="126.97" y="318.81" width="3.0" height="3.0" fill="#1a6fb5"/>
<rect x="136.65" y="318.81" width="3.0" height="3.0" fill="#1a6fb5"/>
<rect x="146.33" y="318.81" width="3.0" height="3.0" fill="#1a6fb5"/>
<rect x="156.02" y="318.81" width="3.0" height="3.0" fill="#1a6fb5"/>
<rect x="165.70" y="318.81" width="3.0" height="3.0" fill="#1a6fb5"/>
<polyline points="51.00,319.84 60.68,317.80 70.37,312.78 80.05,304.00 89.73,295.22 99.42,291.30 109.10,288.79 118.78,286.44 128.47,283.93 138.15,281.58 147.83,279.07 157.52,276.56 167.20,274.37" fill="none" stroke="#ff5050" stroke-width="0.95"/>
<rect x="49.45" y="318.29" width="3.1" height="3.1" fill="#ff2b2b"/>
<rect x="59.13" y="316.25" width="3.1" height="3.1" fill="#ff2b2b"/>
<rect x="68.82" y="311.23" width="3.1" height="3.1" fill="#ff2b2b"/>
<rect x="78.50" y="302.45" width="3.1" height="3.1" fill="#ff2b2b"/>
<rect x="88.18" y="293.67" width="3.1" height="3.1" fill="#ff2b2b"/>
<rect x="97.87" y="289.75" width="3.1" height="3.1" fill="#ff2b2b"/>
<rect x="107.55" y="287.24" width="3.1" height="3.1" fill="#ff2b2b"/>
<rect x="117.23" y="284.89" width="3.1" height="3.1" fill="#ff2b2b"/>
<rect x="126.92" y="282.38" width="3.1" height="3.1" fill="#ff2b2b"/>
<rect x="136.60" y="280.03" width="3.1" height="3.1" fill="#ff2b2b"/>
<rect x="146.28" y="277.52" width="3.1" height="3.1" fill="#ff2b2b"/>
<rect x="155.97" y="275.01" width="3.1" height="3.1" fill="#ff2b2b"/>
<rect x="165.65" y="272.82" width="3.1" height="3.1" fill="#ff2b2b"/>
<polyline points="51.00,321.56 60.68,321.56 70.37,321.56 80.05,321.56 89.73,321.56 99.42,321.56 109.10,321.56 118.78,321.56 128.47,321.56 138.15,321.56 147.83,321.56 157.52,321.56 167.20,321.56" fill="none" stroke="#8fd160" stroke-width="1.0"/>
<rect x="49.50" y="320.06" width="3.0" height="3.0" fill="#55aa2a"/>
<rect x="59.18" y="320.06" width="3.0" height="3.0" fill="#55aa2a"/>
<rect x="68.87" y="320.06" width="3.0" height="3.0" fill="#55aa2a"/>
<rect x="78.55" y="320.06" width="3.0" height="3.0" fill="#55aa2a"/>
<rect x="88.23" y="320.06" width="3.0" height="3.0" fill="#55aa2a"/>
<rect x="97.92" y="320.06" width="3.0" height="3.0" fill="#55aa2a"/>
<rect x="107.60" y="320.06" width="3.0" height="3.0" fill="#55aa2a"/>
<rect x="117.28" y="320.06" width="3.0" height="3.0" fill="#55aa2a"/>
<rect x="126.97" y="320.06" width="3.0" height="3.0" fill="#55aa2a"/>
<rect x="136.65" y="320.06" width="3.0" height="3.0" fill="#55aa2a"/>
<rect x="146.33" y="320.06" width="3.0" height="3.0" fill="#55aa2a"/>
<rect x="156.02" y="320.06" width="3.0" height="3.0" fill="#55aa2a"/>
<rect x="165.70" y="320.06" width="3.0" height="3.0" fill="#55aa2a"/>
<rect x="195.5" y="250.5" width="166" height="119" fill="#fff" stroke="#ececec" stroke-width="1"/>
<text transform="translate(188.4,259.6) scale(0.9,1)" font-family="Liberation Serif" font-weight="bold" font-size="10.0" fill="#000">H</text>
<text transform="translate(212.2,297.6) rotate(-90)" text-anchor="middle" font-family="Liberation Serif" font-size="7.52" fill="#303030" stroke="#303030" stroke-width="0.1">Optical density, 600 nm</text>
<text x="225.6" y="339.63" text-anchor="end" font-family="Liberation Serif" font-size="7.52" fill="#303030" stroke="#303030" stroke-width="0.1">0</text>
<text x="225.6" y="320.03" text-anchor="end" font-family="Liberation Serif" font-size="7.52" fill="#303030" stroke="#303030" stroke-width="0.1">0.1</text>
<text x="225.6" y="300.43" text-anchor="end" font-family="Liberation Serif" font-size="7.52" fill="#303030" stroke="#303030" stroke-width="0.1">0.2</text>
<text x="225.6" y="280.83" text-anchor="end" font-family="Liberation Serif" font-size="7.52" fill="#303030" stroke="#303030" stroke-width="0.1">0.3</text>
<text x="225.6" y="261.23" text-anchor="end" font-family="Liberation Serif" font-size="7.52" fill="#303030" stroke="#303030" stroke-width="0.1">0.4</text>
<line x1="230.4" y1="336.80" x2="348.1" y2="336.80" stroke="#d9d9d9" stroke-width="0.8"/>
<text x="231.40" y="348.2" text-anchor="middle" font-family="Liberation Serif" font-size="7.52" fill="#303030" stroke="#303030" stroke-width="0.1">0</text>
<text x="250.77" y="348.2" text-anchor="middle" font-family="Liberation Serif" font-size="7.52" fill="#303030" stroke="#303030" stroke-width="0.1">60</text>
<text x="270.13" y="348.2" text-anchor="middle" font-family="Liberation Serif" font-size="7.52" fill="#303030" stroke="#303030" stroke-width="0.1">120</text>
<text x="289.50" y="348.2" text-anchor="middle" font-family="Liberation Serif" font-size="7.52" fill="#303030" stroke="#303030" stroke-width="0.1">180</text>
<text x="308.87" y="348.2" text-anchor="middle" font-family="Liberation Serif" font-size="7.52" fill="#303030" stroke="#303030" stroke-width="0.1">240</text>
<text x="328.23" y="348.2" text-anchor="middle" font-family="Liberation Serif" font-size="7.52" fill="#303030" stroke="#303030" stroke-width="0.1">300</text>
<text x="347.60" y="348.2" text-anchor="middle" font-family="Liberation Serif" font-size="7.52" fill="#303030" stroke="#303030" stroke-width="0.1">360</text>
<text x="289.7" y="359.6" text-anchor="middle" font-family="Liberation Serif" font-size="7.52" fill="#303030" stroke="#303030" stroke-width="0.1">Cultivation time, min</text>
<polyline points="231.40,314.65 241.08,314.46 250.77,317.20 260.45,317.20 270.13,317.20 279.82,317.20 289.50,317.20 299.18,317.20 308.87,317.20 318.55,317.20 328.23,317.20 337.92,317.20 347.60,317.20" fill="none" stroke="#3399dd" stroke-width="1.4"/>
<rect x="229.90" y="313.15" width="3.0" height="3.0" fill="#1a6fb5"/>
<rect x="239.58" y="312.96" width="3.0" height="3.0" fill="#1a6fb5"/>
<rect x="249.27" y="315.70" width="3.0" height="3.0" fill="#1a6fb5"/>
<rect x="258.95" y="315.70" width="3.0" height="3.0" fill="#1a6fb5"/>
<rect x="268.63" y="315.70" width="3.0" height="3.0" fill="#1a6fb5"/>
<rect x="278.32" y="315.70" width="3.0" height="3.0" fill="#1a6fb5"/>
<rect x="288.00" y="315.70" width="3.0" height="3.0" fill="#1a6fb5"/>
<rect x="297.68" y="315.70" width="3.0" height="3.0" fill="#1a6fb5"/>
<rect x="307.37" y="315.70" width="3.0" height="3.0" fill="#1a6fb5"/>
<rect x="317.05" y="315.70" width="3.0" height="3.0" fill="#1a6fb5"/>
<rect x="326.73" y="315.70" width="3.0" height="3.0" fill="#1a6fb5"/>
<rect x="336.42" y="315.70" width="3.0" height="3.0" fill="#1a6fb5"/>
<rect x="346.10" y="315.70" width="3.0" height="3.0" fill="#1a6fb5"/>
<polyline points="231.40,315.44 241.08,314.46 250.77,309.36 260.45,300.34 270.13,288.58 279.82,283.68 289.50,281.14 299.18,278.78 308.87,276.24 318.55,273.69 328.23,270.94 337.92,268.40 347.60,266.44" fill="none" stroke="#ff5050" stroke-width="0.95"/>
<rect x="229.85" y="313.89" width="3.1" height="3.1" fill="#ff2b2b"/>
<rect x="239.53" y="312.91" width="3.1" height="3.1" fill="#ff2b2b"/>
<rect x="249.22" y="307.81" width="3.1" height="3.1" fill="#ff2b2b"/>
<rect x="258.90" y="298.79" width="3.1" height="3.1" fill="#ff2b2b"/>
<rect x="268.58" y="287.03" width="3.1" height="3.1" fill="#ff2b2b"/>
<rect x="278.27" y="282.13" width="3.1" height="3.1" fill="#ff2b2b"/>
<rect x="287.95" y="279.59" width="3.1" height="3.1" fill="#ff2b2b"/>
<rect x="297.63" y="277.23" width="3.1" height="3.1" fill="#ff2b2b"/>
<rect x="307.32" y="274.69" width="3.1" height="3.1" fill="#ff2b2b"/>
<rect x="317.00" y="272.14" width="3.1" height="3.1" fill="#ff2b2b"/>
<rect x="326.68" y="269.39" width="3.1" height="3.1" fill="#ff2b2b"/>
<rect x="336.37" y="266.85" width="3.1" height="3.1" fill="#ff2b2b"/>
<rect x="346.05" y="264.89" width="3.1" height="3.1" fill="#ff2b2b"/>
<polyline points="231.40,317.59 241.08,317.59 250.77,317.59 260.45,317.59 270.13,317.59 279.82,317.59 289.50,317.59 299.18,317.59 308.87,317.59 318.55,317.59 328.23,317.59 337.92,317.59 347.60,317.59" fill="none" stroke="#8fd160" stroke-width="1.0"/>
<rect x="229.90" y="316.09" width="3.0" height="3.0" fill="#55aa2a"/>
<rect x="239.58" y="316.09" width="3.0" height="3.0" fill="#55aa2a"/>
<rect x="249.27" y="316.09" width="3.0" height="3.0" fill="#55aa2a"/>
<rect x="258.95" y="316.09" width="3.0" height="3.0" fill="#55aa2a"/>
<rect x="268.63" y="316.09" width="3.0" height="3.0" fill="#55aa2a"/>
<rect x="278.32" y="316.09" width="3.0" height="3.0" fill="#55aa2a"/>
<rect x="288.00" y="316.09" width="3.0" height="3.0" fill="#55aa2a"/>
<rect x="297.68" y="316.09" width="3.0" height="3.0" fill="#55aa2a"/>
<rect x="307.37" y="316.09" width="3.0" height="3.0" fill="#55aa2a"/>
<rect x="317.05" y="316.09" width="3.0" height="3.0" fill="#55aa2a"/>
<rect x="326.73" y="316.09" width="3.0" height="3.0" fill="#55aa2a"/>
<rect x="336.42" y="316.09" width="3.0" height="3.0" fill="#55aa2a"/>
<rect x="346.10" y="316.09" width="3.0" height="3.0" fill="#55aa2a"/>
<rect x="377.5" y="250.5" width="166" height="119" fill="#fff" stroke="#ececec" stroke-width="1"/>
<text transform="translate(370.4,259.6) scale(0.9,1)" font-family="Liberation Serif" font-weight="bold" font-size="10.0" fill="#000">I</text>
<text transform="translate(394.2,297.6) rotate(-90)" text-anchor="middle" font-family="Liberation Serif" font-size="7.52" fill="#303030" stroke="#303030" stroke-width="0.1">Optical density, 600 nm</text>
<text x="407.6" y="339.63" text-anchor="end" font-family="Liberation Serif" font-size="7.52" fill="#303030" stroke="#303030" stroke-width="0.1">0</text>
<text x="407.6" y="320.03" text-anchor="end" font-family="Liberation Serif" font-size="7.52" fill="#303030" stroke="#303030" stroke-width="0.1">0.1</text>
<text x="407.6" y="300.43" text-anchor="end" font-family="Liberation Serif" font-size="7.52" fill="#303030" stroke="#303030" stroke-width="0.1">0.2</text>
<text x="407.6" y="280.83" text-anchor="end" font-family="Liberation Serif" font-size="7.52" fill="#303030" stroke="#303030" stroke-width="0.1">0.3</text>
<text x="407.6" y="261.23" text-anchor="end" font-family="Liberation Serif" font-size="7.52" fill="#303030" stroke="#303030" stroke-width="0.1">0.4</text>
<line x1="412.0" y1="336.80" x2="529.7" y2="336.80" stroke="#d9d9d9" stroke-width="0.8"/>
<text x="413.00" y="348.2" text-anchor="middle" font-family="Liberation Serif" font-size="7.52" fill="#303030" stroke="#303030" stroke-width="0.1">0</text>
<text x="432.37" y="348.2" text-anchor="middle" font-family="Liberation Serif" font-size="7.52" fill="#303030" stroke="#303030" stroke-width="0.1">60</text>
<text x="451.73" y="348.2" text-anchor="middle" font-family="Liberation Serif" font-size="7.52" fill="#303030" stroke="#303030" stroke-width="0.1">120</text>
<text x="471.10" y="348.2" text-anchor="middle" font-family="Liberation Serif" font-size="7.52" fill="#303030" stroke="#303030" stroke-width="0.1">180</text>
<text x="490.47" y="348.2" text-anchor="middle" font-family="Liberation Serif" font-size="7.52" fill="#303030" stroke="#303030" stroke-width="0.1">240</text>
<text x="509.83" y="348.2" text-anchor="middle" font-family="Liberation Serif" font-size="7.52" fill="#303030" stroke="#303030" stroke-width="0.1">300</text>
<text x="529.20" y="348.2" text-anchor="middle" font-family="Liberation Serif" font-size="7.52" fill="#303030" stroke="#303030" stroke-width="0.1">360</text>
<text x="471.7" y="359.6" text-anchor="middle" font-family="Liberation Serif" font-size="7.52" fill="#303030" stroke="#303030" stroke-width="0.1">Cultivation time, min</text>
<polyline points="413.00,315.44 422.68,314.46 432.37,314.06 442.05,314.06 451.73,314.46 461.42,315.83 471.10,316.42 480.78,316.81 490.47,316.81 500.15,316.81 509.83,316.81 519.52,316.81 529.20,316.81" fill="none" stroke="#3399dd" stroke-width="1.4"/>
<rect x="411.50" y="313.94" width="3.0" height="3.0" fill="#1a6fb5"/>
<rect x="421.18" y="312.96" width="3.0" height="3.0" fill="#1a6fb5"/>
<rect x="430.87" y="312.56" width="3.0" height="3.0" fill="#1a6fb5"/>
<rect x="440.55" y="312.56" width="3.0" height="3.0" fill="#1a6fb5"/>
<rect x="450.23" y="312.96" width="3.0" height="3.0" fill="#1a6fb5"/>
<rect x="459.92" y="314.33" width="3.0" height="3.0" fill="#1a6fb5"/>
<rect x="469.60" y="314.92" width="3.0" height="3.0" fill="#1a6fb5"/>
<rect x="479.28" y="315.31" width="3.0" height="3.0" fill="#1a6fb5"/>
<rect x="488.97" y="315.31" width="3.0" height="3.0" fill="#1a6fb5"/>
<rect x="498.65" y="315.31" width="3.0" height="3.0" fill="#1a6fb5"/>
<rect x="508.33" y="315.31" width="3.0" height="3.0" fill="#1a6fb5"/>
<rect x="518.02" y="315.31" width="3.0" height="3.0" fill="#1a6fb5"/>
<rect x="527.70" y="315.31" width="3.0" height="3.0" fill="#1a6fb5"/>
<polyline points="413.00,314.46 422.68,314.06 432.37,313.48 442.05,310.34 451.73,304.85 461.42,293.88 471.10,284.66 480.78,280.94 490.47,277.80 500.15,274.86 509.83,271.73 519.52,268.79 529.20,265.26" fill="none" stroke="#ff5050" stroke-width="0.95"/>
<rect x="411.45" y="312.91" width="3.1" height="3.1" fill="#ff2b2b"/>
<rect x="421.13" y="312.51" width="3.1" height="3.1" fill="#ff2b2b"/>
<rect x="430.82" y="311.93" width="3.1" height="3.1" fill="#ff2b2b"/>
<rect x="440.50" y="308.79" width="3.1" height="3.1" fill="#ff2b2b"/>
<rect x="450.18" y="303.30" width="3.1" height="3.1" fill="#ff2b2b"/>
<rect x="459.87" y="292.33" width="3.1" height="3.1" fill="#ff2b2b"/>
<rect x="469.55" y="283.11" width="3.1" height="3.1" fill="#ff2b2b"/>
<rect x="479.23" y="279.39" width="3.1" height="3.1" fill="#ff2b2b"/>
<rect x="488.92" y="276.25" width="3.1" height="3.1" fill="#ff2b2b"/>
<rect x="498.60" y="273.31" width="3.1" height="3.1" fill="#ff2b2b"/>
<rect x="508.28" y="270.18" width="3.1" height="3.1" fill="#ff2b2b"/>
<rect x="517.97" y="267.24" width="3.1" height="3.1" fill="#ff2b2b"/>
<rect x="527.65" y="263.71" width="3.1" height="3.1" fill="#ff2b2b"/>
<polyline points="413.00,317.59 422.68,317.59 432.37,317.59 442.05,317.59 451.73,317.59 461.42,317.59 471.10,317.59 480.78,317.59 490.47,317.59 500.15,317.59 509.83,317.59 519.52,317.59 529.20,317.59" fill="none" stroke="#8fd160" stroke-width="1.0"/>
<rect x="411.50" y="316.09" width="3.0" height="3.0" fill="#55aa2a"/>
<rect x="421.18" y="316.09" width="3.0" height="3.0" fill="#55aa2a"/>
<rect x="430.87" y="316.09" width="3.0" height="3.0" fill="#55aa2a"/>
<rect x="440.55" y="316.09" width="3.0" height="3.0" fill="#55aa2a"/>
<rect x="450.23" y="316.09" width="3.0" height="3.0" fill="#55aa2a"/>
<rect x="459.92" y="316.09" width="3.0" height="3.0" fill="#55aa2a"/>
<rect x="469.60" y="316.09" width="3.0" height="3.0" fill="#55aa2a"/>
<rect x="479.28" y="316.09" width="3.0" height="3.0" fill="#55aa2a"/>
<rect x="488.97" y="316.09" width="3.0" height="3.0" fill="#55aa2a"/>
<rect x="498.65" y="316.09" width="3.0" height="3.0" fill="#55aa2a"/>
<rect x="508.33" y="316.09" width="3.0" height="3.0" fill="#55aa2a"/>
<rect x="518.02" y="316.09" width="3.0" height="3.0" fill="#55aa2a"/>
<rect x="527.70" y="316.09" width="3.0" height="3.0" fill="#55aa2a"/>

<line x1="153.8" y1="381" x2="169.1" y2="381" stroke="#3399dd" stroke-width="1.2"/><rect x="160.5" y="379.7" width="2.6" height="2.6" fill="#1a6fb5"/>
<text x="170.7" y="384" font-family="Liberation Serif" font-size="9" fill="#1a1a1a" stroke="#1a1a1a" stroke-width="0.2">Cocktail</text>
<line x1="247.9" y1="381" x2="262.9" y2="381" stroke="#ff5050" stroke-width="1.2"/><rect x="254.5" y="379.7" width="2.6" height="2.6" fill="#ff2b2b"/>
<text x="264.2" y="384" font-family="Liberation Serif" font-size="9" fill="#1a1a1a" stroke="#1a1a1a" stroke-width="0.2">E. coli</text>
<line x1="334.6" y1="381" x2="349.6" y2="381" stroke="#8fd160" stroke-width="1.2"/><rect x="341" y="379.7" width="2.6" height="2.6" fill="#55aa2a"/>
<text x="351" y="384" font-family="Liberation Serif" font-size="9" fill="#1a1a1a" stroke="#1a1a1a" stroke-width="0.2">Negative control</text>

</svg></body></html>
